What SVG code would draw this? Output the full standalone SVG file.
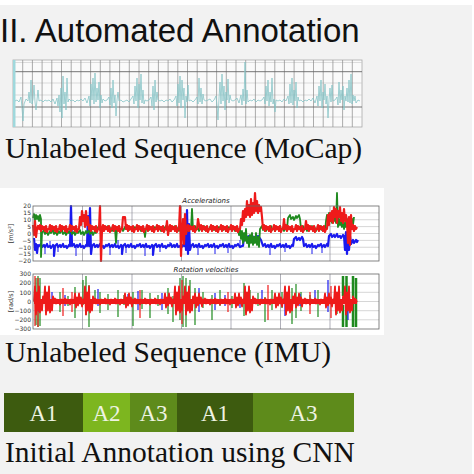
<svg xmlns="http://www.w3.org/2000/svg" width="474" height="474" viewBox="0 0 474 474">
<style>
.serif{font-family:"Liberation Serif","Times New Roman",serif;fill:#111}
.sans{font-family:"Liberation Sans",Arial,sans-serif}
.tick{font-family:"DejaVu Sans","Liberation Sans",sans-serif;font-size:6px;fill:#333;text-anchor:end}
.ptitle{font-family:"DejaVu Sans","Liberation Sans",sans-serif;font-size:7px;font-style:italic;fill:#222;text-anchor:middle}
.seg{font-family:"Liberation Serif","Times New Roman",serif;font-size:23px;fill:#eef3e2;text-anchor:middle}
.sig{fill:none;stroke-linejoin:round}
</style>
<rect width="474" height="474" fill="#ffffff"/>
<rect x="0" y="5" width="472" height="469" fill="#f2f2f2"/>
<g id="connectors"/>
<g id="title"><text class="sans" x="0" y="42" font-size="33" fill="#111">II. Automated Annotation</text></g>
<g id="mocap-plot">
<rect x="13" y="60" width="349" height="67" fill="#fafafa" stroke="#aaa" stroke-width="0.8"/>
<path d="M13,62.5H362M13,83H362M13,95H362M13,117H362" stroke="#c8c8c8" stroke-width="0.6" fill="none"/>
<path d="M22.7,60V127M32.4,60V127M42.1,60V127M51.8,60V127M61.5,60V127M71.2,60V127M80.9,60V127M90.6,60V127M100.3,60V127M109.9,60V127M119.6,60V127M129.3,60V127M139,60V127M148.7,60V127M158.4,60V127M168.1,60V127M177.8,60V127M187.5,60V127M197.2,60V127M206.9,60V127M216.6,60V127M226.3,60V127M236,60V127M245.7,60V127M255.4,60V127M265.1,60V127M274.8,60V127M284.4,60V127M294.1,60V127M303.8,60V127M313.5,60V127M323.2,60V127M332.9,60V127M342.6,60V127M352.3,60V127" stroke="#8a8a8a" stroke-width="0.7" fill="none"/>
<path d="M13,71.7H362M13,107H362" stroke="#666" stroke-width="0.9" fill="none"/>
<rect x="13" y="60" width="2.5" height="67" fill="#9fd8dc"/>
<path class="sig" stroke="#86c4c6" stroke-width="0.8" d="M15,101 L17,100 19,102 21,97 22,108 23,121 24,104 26,99 28,101 29,92 30,103 31,80 32,104 33,99 34,85 35,102 36,110 37,100 38,90 39,101 41,100 43,102 45,100 47,101 49,100 51,102 53,99 55,104 57,98 58,106 59,95 60,112 61,88 62,118 63,76 64,104 65,92 66,110 67,78 68,102 69,99 71,101 73,100 75,102 77,100 79,101 81,99 83,101 85,98 87,103 89,96 90,106 91,84 92,100 93,78 94,104 95,73 96,102 97,88 98,100 99,82 100,108 101,95 102,103 103,99 105,101 107,100 109,97 110,105 111,88 112,108 113,80 114,103 115,95 116,116 117,100 118,92 119,101 121,100 123,102 125,101 127,100 129,102 131,99 133,96 134,104 135,86 136,101 137,78 138,108 139,84 140,100 141,74 142,103 143,90 144,104 145,100 147,101 149,100 151,97 152,106 153,86 154,110 155,80 156,102 157,92 158,100 160,101 162,100 164,102 166,100 168,101 170,99 172,102 174,100 176,96 177,106 178,84 179,103 180,76 181,108 182,80 183,100 184,88 185,118 186,96 187,102 188,85 189,101 191,100 193,102 195,100 197,97 198,104 199,78 200,102 201,88 202,104 203,94 204,100 206,101 208,100 210,99 212,102 214,100 216,96 217,106 218,120 219,98 220,82 221,104 222,74 223,101 224,86 225,110 226,92 227,100 228,79 229,103 230,95 231,100 233,101 235,100 237,98 239,103 241,95 242,105 243,89 244,101 245,62 246,104 247,90 248,102 250,100 252,101 254,99 256,102 258,100 260,101 262,100 264,97 265,104 266,86 267,101 268,80 269,106 270,92 271,102 272,78 273,104 274,99 275,112 276,100 278,101 280,100 282,102 284,99 286,101 288,96 289,104 290,84 291,103 292,78 293,105 294,90 295,101 296,82 297,108 298,97 299,101 301,100 303,102 305,100 307,101 309,99 311,101 313,98 315,103 317,96 318,106 319,86 320,101 321,80 322,108 323,92 324,100 325,84 326,104 327,96 328,118 329,100 330,88 331,102 332,85 333,101 335,100 337,97 338,105 339,82 340,103 341,90 342,100 343,86 344,110 345,96 346,101 347,88 348,102 349,80 350,103 351,74 352,104 353,95 354,101 355,96 356,103 358,100 360,101"/>
</g>
<g id="mocap-label"><text class="serif" x="5" y="158" font-size="29.5">Unlabeled Sequence (MoCap)</text></g>
<g id="imu-plot">
<rect x="0" y="188" width="384" height="147" fill="#ffffff"/>
<text class="ptitle" x="206" y="203">Accelerations</text>
<text class="ptitle" x="206" y="272">Rotation velocities</text>
<path d="M33,212.9H379M33,219.75H379M33,226.6H379M33,233.5H379M33,240.4H379M33,247.25H379M33,254.1H379M33,283.2H379M33,292.3H379M33,301.5H379M33,310.7H379M33,319.8H379" stroke="#bbb" stroke-width="0.6" fill="none"/>
<path d="M82.5,206V261M132,206V261M181.5,206V261M231,206V261M280.5,206V261M330,206V261M82.5,274V329M132,274V329M181.5,274V329M231,274V329M280.5,274V329M330,274V329" stroke="#7a7a8a" stroke-width="0.6" fill="none"/>
<g class="tick">
<text x="31" y="208.2">20</text><text x="31" y="215.1">15</text><text x="31" y="222">10</text><text x="31" y="228.8">5</text><text x="31" y="235.7">0</text><text x="31" y="242.6">−5</text><text x="31" y="249.5">−10</text><text x="31" y="256.3">−15</text><text x="31" y="263.2">−20</text>
<text x="31" y="276.2">300</text><text x="31" y="285.4">200</text><text x="31" y="294.5">100</text><text x="31" y="303.7">0</text><text x="31" y="312.9">−100</text><text x="31" y="322">−200</text><text x="31" y="331.2">−300</text>
</g>
<text transform="translate(13,233.5) rotate(-90)" font-family="DejaVu Sans,Liberation Sans,sans-serif" font-size="6.5" fill="#333" text-anchor="middle">[m/s²]</text>
<text transform="translate(13,301.5) rotate(-90)" font-family="DejaVu Sans,Liberation Sans,sans-serif" font-size="6.5" fill="#333" text-anchor="middle">[rad/s]</text>
<!-- accelerations -->
<path class="sig" stroke="#1a1aee" stroke-width="2.2" d="M34,238 l1,12 1,-6 1,9 1,-8 1,1 l2,-2 1,3 2,-2 1,2 2,-3 1,3 2,-1 1,2 2,-3 1,1 l0,10 1,-10 l2,-2 1,3 2,-2 1,2 2,-3 1,3 2,-1 1,2 2,-3 1,1 l1,-40 1,40 l2,-2 1,3 2,-2 1,2 2,-3 1,3 2,-1 1,2 2,-3 1,1 l1,-30 1,30 1,-38 1,46 1,-8 l2,-2 1,3 2,-2 1,2 2,-3 1,3 2,-1 1,2 2,-3 1,1 l2,-2 1,3 2,-2 1,2 2,-3 1,3 2,-1 1,2 2,-3 1,1 l0,8 1,-8 l2,-2 1,3 2,-2 1,2 2,-3 1,3 2,-1 1,2 2,-3 1,1 l2,-2 1,3 2,-2 1,2 2,-3 1,3 2,-1 1,2 2,-3 1,1 l0,9 1,-9 l2,-2 1,3 2,-2 1,2 2,-3 1,3 2,-1 1,2 2,-3 1,1 l2,-2 1,3 2,-2 1,2 2,-3 1,3 2,-1 1,2 2,-3 1,1 l1,-16 1,20 1,-40 1,44 1,-30 1,26 1,-4 l2,-2 1,3 2,-2 1,2 2,-3 1,3 2,-1 1,2 2,-3 1,1 l2,-2 1,3 2,-2 1,2 2,-3 1,3 2,-1 1,2 2,-3 1,1 l2,-2 1,3 2,-2 1,2 2,-3 1,3 2,-1 1,2 2,-3 1,1 l2,-2 2,3 2,-1 1,0 l1,-9 l2,-2 1,3 2,-2 1,2 2,-3 1,3 2,-1 1,2 2,-3 1,1 l2,3 2,6 l2,-2 1,3 2,-2 1,2 2,-3 1,3 2,-1 1,2 2,-3 1,1 l2,-2 1,3 2,-2 1,2 2,-3 1,3 2,-1 1,2 2,-3 1,1 l1,-7 l2,-2 1,3 2,-2 1,2 2,-3 1,2 l1,7 l2,-2 1,3 2,-2 1,2 2,-3 1,3 2,-1 1,2 2,-3 1,1 l2,-2 1,3 2,-2 1,2 2,-3 1,2 l1,-10 l2,-2 1,3 2,-2 1,2 2,-3 1,3 2,-1 1,2 2,-3 1,1 l1,14 1,-18 1,22 1,-20 1,16 1,-14 l1,8 l2,-4 1,3 2,-3 1,2 1,-2"/>
<path stroke="#1a1aee" stroke-width="1" fill="none" d="M45,246V254M58,246V252M76,246V256M110,246V255M126,246V253M145,246V256M160,246V252M198,246V255M215,246V254M228,246V253M270,246V255M285,246V252M312,246V254M322,246V253M50,246V241M118,246V240M170,246V242M240,246V240"/>
<path class="sig" stroke="#1f8a1f" stroke-width="1.8" d="M33,218 l1,-4 1,6 1,-5 1,4 1,-3 1,5 1,-6 1,4 l0,38 1,-24 l2,-3 1,4 2,-2 1,3 2,-4 1,2 l2,-3 1,4 2,-2 1,3 2,-4 1,2 l2,-3 1,4 2,-2 1,3 2,-4 1,2 l2,-3 1,4 2,-2 1,3 2,-4 1,2 l2,-3 1,4 2,-2 1,3 2,-4 1,2 l2,-3 1,4 2,-2 1,3 2,-4 1,2 l1,-4 l2,-3 1,4 2,-2 1,3 2,-4 1,2 l2,-3 1,4 2,-2 1,3 2,-4 1,2 l1,14 1,-14 l2,-3 1,4 2,-2 1,3 2,-4 1,2 l2,-3 1,4 2,-2 1,3 2,-4 1,2 l2,-3 1,4 2,-2 1,3 2,-4 1,2 l1,8 1,-8 l2,-3 1,4 2,-2 1,3 2,-4 1,2 l2,-3 1,4 2,-2 1,3 2,-4 1,2 l2,-3 1,4 2,-2 1,3 2,-4 1,2 l2,-3 1,4 2,-2 1,3 2,-4 1,2 l2,-3 1,4 2,-2 1,3 2,-4 1,2 l1,-20 1,20 l2,-3 1,4 2,-2 1,3 2,-4 1,2 l2,-3 1,4 2,-2 1,3 2,-4 1,2 l2,-3 1,4 2,-2 1,3 2,-4 1,2 l2,-3 1,4 2,-2 1,3 2,-4 1,2 l2,-3 1,4 2,-2 1,3 2,-4 1,2 l1,6 l1,-6 1,10 1,-8 1,12 1,-10 1,8 1,-12 1,14 1,-6 1,10 1,-12 1,8 1,-10 1,12 1,-8 1,6 1,-10 1,12 1,-8 1,10 l1,-18 l2,-3 1,4 2,-2 1,3 2,-4 1,2 l2,-3 1,4 2,-2 1,3 2,-4 1,2 l2,-3 1,4 2,-2 1,3 2,-4 1,2 l1,-11 l2,-3 1,4 2,-2 1,3 2,-4 1,2 l2,-3 1,4 l1,10 l2,-3 1,4 2,-2 1,3 2,-4 1,2 l2,-3 1,4 2,-2 1,3 2,-4 1,2 l2,-3 1,4 2,-2 1,3 l1,-10 l1,-6 1,8 1,-10 1,6 1,-4 1,8 1,-12 1,10 1,-6 1,8 1,-30 1,34 1,-8 1,6 1,-4 1,6 1,-8 1,10 1,-6 1,4 l1,-8 1,10 1,-6 1,4 1,-2 1,-6 1,6 1,-8"/>
<path class="sig" stroke="#ee1a1a" stroke-width="2.2" d="M33,225 l1,10 1,-14 1,16 1,-8 1,-3 1,3 l1,-4 1,6 1,-5 1,3 1,-2 1,4 1,-5 1,6 1,-3 1,0 l1,-4 1,6 1,-5 1,3 1,-2 1,4 1,-5 1,6 1,-3 1,0 l1,-4 1,6 1,-5 1,3 1,-2 1,4 1,-5 1,6 1,-3 1,0 l1,-4 1,6 1,-5 1,3 1,-2 1,4 1,-5 1,6 1,-3 1,0 l1,-12 1,8 1,-14 1,10 1,-6 1,12 1,-16 1,14 1,-8 1,12 l1,-4 1,6 1,-5 1,3 1,-2 1,4 1,-5 1,6 1,-3 1,0 l1,-23 1,55 1,-32 l1,-4 1,6 1,-5 1,3 1,-2 1,4 1,-5 1,6 1,-3 1,0 l1,-4 1,6 1,-5 1,3 1,-2 1,4 1,-5 1,6 1,-3 1,0 l1,-12 2,0 1,12 l1,-4 1,6 1,-5 1,3 1,-2 1,4 1,-5 1,6 1,-3 1,0 l1,-4 1,6 1,-5 1,3 1,-2 1,4 1,-5 1,6 1,-3 1,0 l1,-4 1,6 1,-5 1,3 1,-2 1,4 1,-5 1,6 1,-3 1,0 l1,-4 1,6 1,-5 1,3 1,-2 1,4 1,-5 1,6 1,-3 1,0 l1,-8 1,14 1,-6 l1,-4 1,6 1,-5 1,3 1,-2 1,4 1,-5 1,6 1,-3 1,0 l1,-23 1,50 1,-27 l1,-10 1,25 1,-30 1,20 1,-5 l1,-4 1,6 1,-5 1,3 1,-2 1,4 1,-5 1,6 1,-3 1,0 l1,-10 1,6 1,4 l1,-4 1,6 1,-5 1,3 1,-2 1,4 1,-5 1,6 1,-3 1,0 l1,-4 1,6 1,-5 1,3 1,-2 1,4 1,-5 1,6 1,-3 1,0 l1,-4 1,6 1,-5 1,3 1,-2 1,4 1,-5 1,6 1,-3 1,0 l1,-4 1,6 1,-5 1,3 1,-2 1,4 1,-5 1,6 1,-3 1,0 l1,-10 1,6 1,-14 1,10 1,-12 1,8 1,-16 1,14 1,-10 1,12 1,-18 1,16 1,-12 1,10 1,-20 1,18 1,-10 1,12 1,-8 1,6 1,-4 1,10 l1,12 l1,-4 1,6 1,-5 1,3 1,-2 1,4 1,-5 1,6 1,-3 1,0 l1,-4 1,6 1,-5 1,3 1,-2 1,4 1,-5 1,6 1,-3 1,0 l1,-10 1,10 l1,-4 1,6 1,-5 1,3 1,-2 1,4 1,-5 1,6 1,-3 1,0 l1,-4 1,6 1,-5 1,3 1,-2 1,4 1,-5 1,6 1,-3 1,0 l1,-8 1,8 l1,-4 1,6 1,-5 1,3 1,-2 1,4 1,-5 1,6 1,-3 1,0 l1,-4 1,6 1,-5 1,3 1,-2 1,4 1,-5 1,6 1,-3 1,0 l1,-14 1,10 1,-12 1,8 1,-10 1,12 1,-16 1,10 1,-8 1,14 1,-12 1,6 1,-10 1,14 1,-8 1,10 1,-14 1,12 1,-6 1,8 l1,20 1,-26 1,28 1,-30 1,14 l1,-4 1,6 1,-5 1,3 1,-2"/>
<!-- rotation velocities -->
<path stroke="#1f8a1f" stroke-width="1.2" fill="none" d="M36,278V325M38,276V327M40,278V326M47,295V310M60,292V312M68,296V306M75,287V318M83,280V305M86,276V315M89,285V327M95,290V303M100,292V313M108,294V310M118,290V317M124,295V305M133,292V326M142,290V309M150,293V318M158,295V306M168,288V314M173,296V322M180,278V320M183,276V327M186,278V327M190,280V312M195,288V325M203,292V308M212,295V320M220,290V306M232,296V308M244,283V316M250,290V312M258,293V306M265,297V322M272,290V310M282,292V308M292,288V324M296,284V318M301,292V311M310,295V305M318,290V317M325,296V304M337,294V314"/>
<path stroke="#1f8a1f" stroke-width="2.5" fill="none" d="M343,276V296M343,305V327M346.5,276V327M353,276V298M353,304V327M356,278V327"/>
<path stroke="#1a1aee" stroke-width="1.2" fill="none" d="M39,290V312M52,292V308M65,295V306M98,289V306M128,294V305M138,291V310M162,293V310M189,290V305M199,288V312M215,293V310M225,295V306M240,297V308M262,290V303M285,293V316M300,294V306M315,290V302M328,280V312M338,292V310M348,295V320"/>
<path stroke="#ee1a1a" stroke-width="5" fill="none" d="M34,301.5H357"/>
<path stroke="#ee1a1a" stroke-width="1.2" fill="none" d="M35,276V326M63,288V316M72,292V312M140,290V318M182,280V324M228,292V312M268,285V320M310,292V314M331,286V318M38,278V327"/>
<path class="sig" stroke="#ee1a1a" stroke-width="1.8" d="M34,301.5 l1,-15 1,28 1,-22 1,18 1,-24 1,26 1,-12 1,10 1,-14 1,5 l1,-15 1,28 1,-22 1,18 1,-24 1,26 1,-12 1,10 1,-14 1,5 l1,-3 1,5 1,-4 1,3 1,-2 1,4 1,-5 1,3 1,-1 1,0 l1,-3 1,5 1,-4 1,3 1,-2 1,4 1,-5 1,3 1,-1 1,0 l1,-8 1,14 1,-10 1,8 1,-12 1,10 1,-6 1,9 1,-7 1,2 l1,-15 1,28 1,-22 1,18 1,-24 1,26 1,-12 1,10 1,-14 1,5 l1,-3 1,5 1,-4 1,3 1,-2 1,4 1,-5 1,3 1,-1 1,0 l1,-3 1,5 1,-4 1,3 1,-2 1,4 1,-5 1,3 1,-1 1,0 l1,-3 1,5 1,-4 1,3 1,-2 1,4 1,-5 1,3 1,-1 1,0 l1,-8 1,14 1,-10 1,8 1,-12 1,10 1,-6 1,9 1,-7 1,2 l1,-3 1,5 1,-4 1,3 1,-2 1,4 1,-5 1,3 1,-1 1,0 l1,-3 1,5 1,-4 1,3 1,-2 1,4 1,-5 1,3 1,-1 1,0 l1,-3 1,5 1,-4 1,3 1,-2 1,4 1,-5 1,3 1,-1 1,0 l1,-8 1,14 1,-10 1,8 1,-12 1,10 1,-6 1,9 1,-7 1,2 l1,-15 1,28 1,-22 1,18 1,-24 1,26 1,-12 1,10 1,-14 1,5 l1,-15 1,28 1,-22 1,18 1,-24 1,26 1,-12 1,10 1,-14 1,5 l1,-8 1,14 1,-10 1,8 1,-12 1,10 1,-6 1,9 1,-7 1,2 l1,-3 1,5 1,-4 1,3 1,-2 1,4 1,-5 1,3 1,-1 1,0 l1,-3 1,5 1,-4 1,3 1,-2 1,4 1,-5 1,3 1,-1 1,0 l1,-3 1,5 1,-4 1,3 1,-2 1,4 1,-5 1,3 1,-1 1,0 l1,-8 1,14 1,-10 1,8 1,-12 1,10 1,-6 1,9 1,-7 1,2 l1,-15 1,28 1,-22 1,18 1,-24 1,26 1,-12 1,10 1,-14 1,5 l1,-3 1,5 1,-4 1,3 1,-2 1,4 1,-5 1,3 1,-1 1,0 l1,-3 1,5 1,-4 1,3 1,-2 1,4 1,-5 1,3 1,-1 1,0 l1,-8 1,14 1,-10 1,8 1,-12 1,10 1,-6 1,9 1,-7 1,2 l1,-15 1,28 1,-22 1,18 1,-24 1,26 1,-12 1,10 1,-14 1,5 l1,-8 1,14 1,-10 1,8 1,-12 1,10 1,-6 1,9 1,-7 1,2 l1,-3 1,5 1,-4 1,3 1,-2 1,4 1,-5 1,3 1,-1 1,0 l1,-3 1,5 1,-4 1,3 1,-2 1,4 1,-5 1,3 1,-1 1,0 l1,-8 1,14 1,-10 1,8 1,-12 1,10 1,-6 1,9 1,-7 1,2 l1,-15 1,28 1,-22 1,18 1,-24 1,26 1,-12 1,10 1,-14 1,5 l1,-15 1,28 1,-22 1,18 1,-24 1,26 1,-12 1,10 1,-14 1,5 l1,-3 1,4 1,-2"/>
<rect x="33" y="206" width="346" height="55" fill="none" stroke="#666" stroke-width="0.8"/>
<rect x="33" y="274" width="346" height="55" fill="none" stroke="#666" stroke-width="0.8"/>
</g>
<g id="imu-label"><text class="serif" x="5" y="362" font-size="29.5">Unlabeled Sequence (IMU)</text></g>
<g id="annotation-bar">
<g id="seg-a1-first"><rect x="4" y="393" width="79" height="39" fill="#3d5b0f"/><text class="seg" x="43.5" y="421">A1</text></g>
<g id="seg-a2"><rect x="83" y="393" width="47" height="39" fill="#7db61f"/><text class="seg" x="106.5" y="421">A2</text></g>
<g id="seg-a3-first"><rect x="130" y="393" width="47" height="39" fill="#5e8b1b"/><text class="seg" x="153.5" y="421">A3</text></g>
<g id="seg-a1-second"><rect x="177" y="393" width="76" height="39" fill="#3d5b0f"/><text class="seg" x="215" y="421">A1</text></g>
<g id="seg-a3-second"><rect x="253" y="393" width="101" height="39" fill="#5e8b1b"/><text class="seg" x="303.5" y="421">A3</text></g>
</g>
<g id="cnn-label"><text class="serif" x="5" y="462" font-size="29.5">Initial Annotation using CNN</text></g>
</svg>
